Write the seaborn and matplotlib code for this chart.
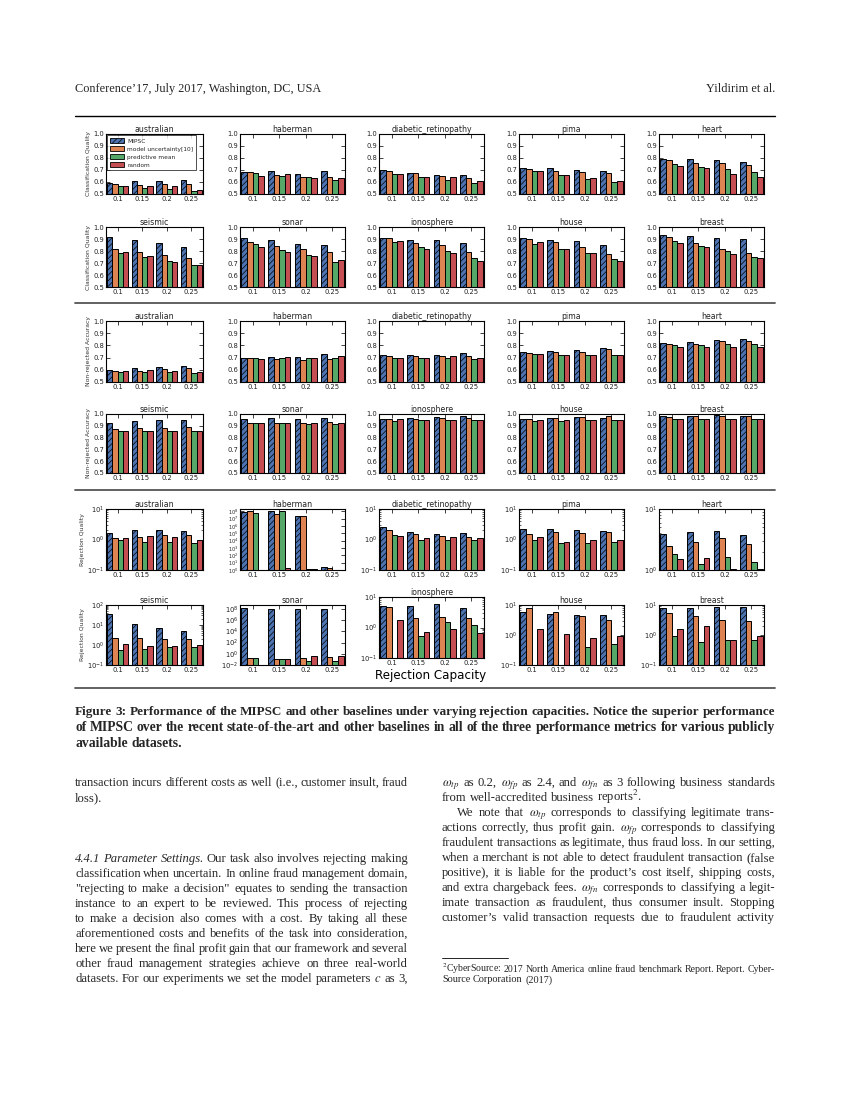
import numpy as np
import pandas as pd
import seaborn as sns
import matplotlib.pyplot as plt
from matplotlib.patches import Patch
from matplotlib.lines import Line2D
from matplotlib.ticker import NullFormatter

W, H = 850, 1100

# ---- data ----
datasets_top = ['australian', 'haberman', 'diabetic_retinopathy', 'pima', 'heart']
datasets_bottom = ['seismic', 'sonar', 'ionosphere', 'house', 'breast']
capacities = ['0.1', '0.15', '0.2', '0.25']
methods = ['MIPSC', 'model uncertainty[10]', 'predictive mean', 'random']
colors = ['#4c72b0', '#dd8452', '#55a868', '#c44e52']

# one row per rejection capacity, one column per method
class_quality = {
    'australian': [[0.59, 0.58, 0.57, 0.57], [0.61, 0.575, 0.55, 0.57],
                   [0.61, 0.58, 0.54, 0.565], [0.615, 0.585, 0.525, 0.535]],
    'haberman': [[0.685, 0.685, 0.675, 0.65], [0.695, 0.66, 0.65, 0.665],
                 [0.67, 0.64, 0.645, 0.63], [0.695, 0.64, 0.62, 0.63]],
    'diabetic_retinopathy': [[0.70, 0.69, 0.665, 0.665], [0.675, 0.675, 0.645, 0.645],
                             [0.66, 0.65, 0.62, 0.64], [0.66, 0.63, 0.59, 0.605]],
    'pima': [[0.715, 0.71, 0.69, 0.69], [0.715, 0.695, 0.655, 0.655],
             [0.70, 0.68, 0.625, 0.635], [0.69, 0.675, 0.60, 0.61]],
    'heart': [[0.79, 0.785, 0.75, 0.735], [0.79, 0.76, 0.725, 0.72],
              [0.78, 0.76, 0.71, 0.67], [0.77, 0.74, 0.68, 0.64]],
    'seismic': [[0.915, 0.82, 0.785, 0.79], [0.895, 0.79, 0.75, 0.755],
                [0.87, 0.765, 0.715, 0.71], [0.835, 0.74, 0.68, 0.685]],
    'sonar': [[0.905, 0.875, 0.855, 0.835], [0.895, 0.84, 0.81, 0.795],
              [0.86, 0.815, 0.765, 0.76], [0.85, 0.79, 0.71, 0.725]],
    'ionosphere': [[0.91, 0.905, 0.875, 0.88], [0.89, 0.865, 0.835, 0.82],
                   [0.89, 0.85, 0.80, 0.78], [0.87, 0.79, 0.745, 0.72]],
    'house': [[0.91, 0.90, 0.86, 0.875], [0.895, 0.875, 0.82, 0.82],
              [0.88, 0.835, 0.78, 0.78], [0.85, 0.775, 0.73, 0.72]],
    'breast': [[0.93, 0.915, 0.88, 0.87], [0.925, 0.87, 0.84, 0.835],
               [0.905, 0.82, 0.80, 0.775], [0.90, 0.78, 0.75, 0.74]],
}

nonrej_accuracy = {
    'australian': [[0.60, 0.59, 0.585, 0.59], [0.615, 0.59, 0.585, 0.595],
                   [0.62, 0.605, 0.58, 0.59], [0.635, 0.615, 0.575, 0.585]],
    'haberman': [[0.70, 0.695, 0.70, 0.685], [0.705, 0.685, 0.695, 0.705],
                 [0.705, 0.68, 0.70, 0.70], [0.73, 0.69, 0.70, 0.715]],
    'diabetic_retinopathy': [[0.72, 0.71, 0.70, 0.70], [0.72, 0.715, 0.70, 0.70],
                             [0.72, 0.71, 0.695, 0.71], [0.735, 0.71, 0.69, 0.70]],
    'pima': [[0.745, 0.74, 0.73, 0.73], [0.755, 0.745, 0.725, 0.725],
             [0.765, 0.75, 0.72, 0.725], [0.775, 0.77, 0.72, 0.725]],
    'heart': [[0.82, 0.81, 0.80, 0.79], [0.83, 0.81, 0.80, 0.79],
              [0.845, 0.835, 0.81, 0.79], [0.855, 0.84, 0.81, 0.785]],
    'seismic': [[0.925, 0.875, 0.855, 0.86], [0.94, 0.88, 0.855, 0.86],
                [0.945, 0.885, 0.855, 0.855], [0.945, 0.89, 0.855, 0.86]],
    'sonar': [[0.955, 0.925, 0.925, 0.92], [0.965, 0.925, 0.92, 0.92],
              [0.955, 0.925, 0.915, 0.925], [0.965, 0.93, 0.915, 0.92]],
    'ionosphere': [[0.96, 0.955, 0.94, 0.955], [0.97, 0.96, 0.945, 0.945],
                   [0.975, 0.965, 0.95, 0.95], [0.98, 0.965, 0.945, 0.945]],
    'house': [[0.96, 0.96, 0.94, 0.95], [0.965, 0.97, 0.94, 0.945],
              [0.975, 0.975, 0.945, 0.945], [0.97, 0.98, 0.945, 0.945]],
    'breast': [[0.98, 0.975, 0.96, 0.96], [0.985, 0.98, 0.96, 0.96],
               [0.99, 0.985, 0.96, 0.96], [0.985, 0.985, 0.96, 0.96]],
}

nan = np.nan
rej_quality = {
    'australian': [[1.63, 1.08, 0.95, 1.14], [2.05, 1.2, 0.84, 1.33],
                   [2.0, 1.36, 0.84, 1.17], [1.85, 1.43, 0.77, 0.95]],
    'haberman': [[7e7, 1.2e8, 6.3e7, 1.05], [9.3e7, 4e7, 9.3e7, 2.0],
                 [2.2e7, 2.2e7, 1.5, 1.2], [2.5, 1.8, 1.1, 1.1]],
    'diabetic_retinopathy': [[2.6, 2.1, 1.43, 1.26], [1.8, 1.55, 0.97, 1.08],
                             [1.55, 1.26, 0.95, 1.23], [1.63, 1.23, 0.93, 1.08]],
    'pima': [[2.15, 1.55, 0.93, 1.17], [2.27, 1.7, 0.77, 0.84],
             [2.0, 1.6, 0.77, 0.97], [1.95, 1.75, 0.84, 0.97]],
    'heart': [[3.9, 2.45, 1.82, 1.5], [4.2, 2.9, 1.25, 1.6],
              [4.4, 3.3, 1.65, 1.02], [3.8, 2.7, 1.35, 1.02]],
    'seismic': [[37, 2.3, 0.56, 1.12], [10.8, 2.15, 0.63, 0.93],
                [6.8, 2.0, 0.8, 0.89], [5.0, 1.9, 0.83, 1.0]],
    'sonar': [[1.3e8, 0.17, 0.17, nan], [1.0e8, 0.1, 0.1, 0.1],
              [1.1e8, 0.2, 0.06, 0.45], [8e7, 0.3, 0.06, 0.4]],
    'ionosphere': [[5.0, 4.6, nan, 1.8], [5.2, 2.05, 0.54, 0.73],
                   [6.0, 2.15, 1.55, 0.86], [4.4, 2.05, 1.17, 0.65]],
    'house': [[5.7, 7.7, nan, 1.6], [4.9, 5.7, nan, 1.08],
              [4.6, 4.3, 0.39, 0.77], [4.6, 3.1, 0.5, 0.9]],
    'breast': [[7.7, 5.3, 0.9, 1.6], [7.7, 4.3, 0.58, 2.0],
               [8.6, 3.2, 0.66, 0.66], [8.6, 2.9, 0.66, 0.9]],
}

row_labels = ['Classification Quality', 'Classification Quality',
              'Non-rejected Accuracy', 'Non-rejected Accuracy',
              'Rejection Quality', 'Rejection Quality']

# log axis ranges for the rejection quality panels
log_limits = {
    'australian': (0.1, 10), 'haberman': (1, 2e8), 'diabetic_retinopathy': (0.1, 10),
    'pima': (0.1, 10), 'heart': (1, 10), 'seismic': (0.1, 100),
    'sonar': (0.01, 5e8), 'ionosphere': (0.1, 10), 'house': (0.1, 10), 'breast': (0.1, 10),
}
log_ticks = {
    'haberman': [10.0 ** k for k in range(9)],
    'sonar': [1e-2, 1, 1e2, 1e4, 1e6, 1e8],
    'seismic': [0.1, 1, 10, 100],
    'heart': [1, 10],
}

# ---- layout (pixels in the 850x1100 page) ----
col_left = [106, 240, 379, 519, 659]
col_width = [97, 105, 105, 105, 105]
row_span = [(134, 194), (227, 287), (321, 382), (414, 473), (509, 570), (605, 665)]

sns.set_theme(style='ticks')
plt.rcParams['font.family'] = ['DejaVu Sans']
plt.rcParams['mathtext.fontset'] = 'stix'
plt.rcParams['hatch.linewidth'] = 0.5
plt.rcParams['hatch.color'] = '#1a2a50'

fig = plt.figure(figsize=(W / 100, H / 100), dpi=100)


def add_ax(x0, x1, y0, y1):
    return fig.add_axes([x0 / W, 1 - y1 / H, (x1 - x0) / W, (y1 - y0) / H])


def draw_panel(ax, values, name, log=False):
    rows = []
    for cap, vals in zip(capacities, values):
        for m, v in zip(methods, vals):
            if not np.isnan(v):
                rows.append({'capacity': cap, 'method': m, 'value': v})
    df = pd.DataFrame(rows)
    sns.barplot(data=df, x='capacity', y='value', hue='method', order=capacities,
                hue_order=methods, palette=colors, saturation=1, edgecolor='black',
                linewidth=0.7, errorbar=None, legend=False, width=0.84, ax=ax)
    for bar in ax.containers[0]:
        bar.set_hatch('//////')
    ax.set_xlim(-0.47, 3.47)
    ax.set_xlabel('')
    ax.set_ylabel('')
    if log:
        ax.set_yscale('log')
        ax.set_ylim(*log_limits[name])
        if name in log_ticks:
            ax.set_yticks(log_ticks[name])
        ax.yaxis.set_minor_formatter(NullFormatter())
        ax.tick_params(axis='y', which='minor', direction='in', right=True,
                       length=1.5, width=0.5)
    else:
        ax.set_ylim(0.5, 1.0)
        ax.set_yticks([0.5, 0.6, 0.7, 0.8, 0.9, 1.0])
        ax.set_yticklabels(['0.5', '0.6', '0.7', '0.8', '0.9', '1.0'])
    ax.tick_params(axis='both', which='major', direction='in', top=True, right=True,
                   length=3, width=0.6, labelsize=4.9, pad=1.5, colors='#222222')
    if name == 'haberman' and log:
        # nine decades in a short panel: the labels have to be tiny
        ax.tick_params(axis='y', which='major', labelsize=3.6, pad=1)
    ax.set_title(name, fontsize=5.6, pad=1.5, color='#222222')
    for s in ax.spines.values():
        s.set_linewidth(0.8)
        s.set_color('black')


metric_rows = [(class_quality, datasets_top, False), (class_quality, datasets_bottom, False),
               (nonrej_accuracy, datasets_top, False), (nonrej_accuracy, datasets_bottom, False),
               (rej_quality, datasets_top, True), (rej_quality, datasets_bottom, True)]

for r, (metric, names, log) in enumerate(metric_rows):
    y0, y1 = row_span[r]
    for c, name in enumerate(names):
        a0, a1 = y0, y1
        if name == 'ionosphere' and log:
            a0, a1 = y0 - 8, y1 - 7
        ax = add_ax(col_left[c], col_left[c] + col_width[c], a0, a1)
        draw_panel(ax, metric[name], name, log)
        if c == 0:
            ax.set_ylabel(row_labels[r], fontsize=4.4, labelpad=1.5, color='#333333')
        if r == 0 and c == 0:
            handles = [Patch(facecolor=col, edgecolor='black', linewidth=0.6,
                             hatch='//////' if i == 0 else None)
                       for i, col in enumerate(colors)]
            leg = ax.legend(handles, methods, loc='upper left', fontsize=4.2,
                            frameon=True, fancybox=False, edgecolor='black',
                            borderpad=0.5, handlelength=2.3, handleheight=1.0,
                            handletextpad=0.6, labelspacing=0.4, borderaxespad=0.2)
            leg.get_frame().set_linewidth(0.6)

fig.text(431 / W, 1 - 675 / H, 'Rejection Capacity', fontsize=8.6, ha='center',
         va='center', color='black')

# ---- page rules ----
def hline(y, x0=75, x1=775, color='black', lw=1.0):
    fig.add_artist(Line2D([x0 / W, x1 / W], [1 - y / H, 1 - y / H],
                          transform=fig.transFigure, color=color, linewidth=lw))

hline(116, lw=1.0)
hline(303, color='#555555', lw=1.3)
hline(490, color='#555555', lw=1.3)
hline(688, color='#555555', lw=1.3)
hline(958, x0=442, x1=508, lw=0.6)

# ---- page text ----
renderer = fig.canvas.get_renderer()
serif = ['Liberation Serif', 'DejaVu Serif']


def text_line(line, x0, x1, y, justify=True, size=9.0, **kw):
    # words starting with '~' are set in italics; the line is shrunk if it would not fit
    words = line.split(' ')
    while True:
        items = []
        for w in words:
            style = 'italic' if w.startswith('~') else 'normal'
            t = fig.text(0, 1 - y / H, w.lstrip('~'), style=style, family=serif,
                         va='baseline', ha='left', fontsize=size, **kw)
            items.append((t, t.get_window_extent(renderer).width))
        total = sum(w for _, w in items)
        sw = size * 100 / 72 * 0.25
        if not justify or len(items) < 2 or total + sw * 0.7 * (len(items) - 1) <= x1 - x0:
            break
        for t, _ in items:
            t.remove()
        size *= 0.98
    if justify and len(items) > 1:
        gap = (x1 - x0 - total) / (len(items) - 1)
    else:
        gap = sw
    x = x0
    for t, w in items:
        t.set_x(x / W)
        x += w + gap


fig.text(75 / W, 1 - 92 / H, 'Conference\u201917, July 2017, Washington, DC, USA',
         family=serif, fontsize=8.8, va='baseline')
fig.text(775 / W, 1 - 92 / H, 'Yildirim et al.', family=serif, fontsize=8.8,
         va='baseline', ha='right')

caption = [
    ('Figure 3: Performance of the MIPSC and other baselines under varying rejection capacities. Notice the superior performance', True),
    ('of MIPSC over the recent state-of-the-art and other baselines in all of the three performance metrics for various publicly', True),
    ('available datasets.', False),
]
for i, (line, just) in enumerate(caption):
    text_line(line, 75, 775, 715 + i * 16.0, just, size=9.8, weight='bold')

left_col = [
    (786, 'transaction incurs different costs as well (i.e., customer insult, fraud', True),
    (801, 'loss).', False),
]
left_par = [
    '~4.4.1 ~Parameter ~Settings. Our task also involves rejecting making',
    'classification when uncertain. In online fraud management domain,',
    '"rejecting to make a decision" equates to sending the transaction',
    'instance to an expert to be reviewed. This process of rejecting',
    'to make a decision also comes with a cost. By taking all these',
    'aforementioned costs and benefits of the task into consideration,',
    'here we present the final profit gain that our framework and several',
    'other fraud management strategies achieve on three real-world',
    'datasets. For our experiments we set the model parameters $c$ as 3,',
]
for y, line, just in left_col:
    text_line(line, 75, 408, y, just, size=9.1)
for i, line in enumerate(left_par):
    text_line(line, 75, 408, 862 + i * 15.0, True, size=9.1)

right_col = [
    (r'$\omega_{tp}$ as 0.2, $\omega_{fp}$ as 2.4, and $\omega_{fn}$ as 3 following business standards', 442, True),
    (r'from well-accredited business reports$^2$.', 442, False),
    (r'We note that $\omega_{tp}$ corresponds to classifying legitimate trans-', 457, True),
    (r'actions correctly, thus profit gain. $\omega_{fp}$ corresponds to classifying', 442, True),
    ('fraudulent transactions as legitimate, thus fraud loss. In our setting,', 442, True),
    ('when a merchant is not able to detect fraudulent transaction (false', 442, True),
    ('positive), it is liable for the product\u2019s cost itself, shipping costs,', 442, True),
    (r'and extra chargeback fees. $\omega_{fn}$ corresponds to classifying a legit-', 442, True),
    ('imate transaction as fraudulent, thus consumer insult. Stopping', 442, True),
    ('customer\u2019s valid transaction requests due to fraudulent activity', 442, True),
]
for i, (line, x0, just) in enumerate(right_col):
    text_line(line, x0, 775, 786 + i * 15.0, just, size=9.1)

text_line(r'$^2$CyberSource: 2017 North America online fraud benchmark Report. Report. Cyber-',
          442, 775, 971.5, True, size=7.4)
text_line('Source Corporation (2017)', 442, 775, 982.5, False, size=7.4)

plt.savefig('out.png', dpi=100)
plt.close()
